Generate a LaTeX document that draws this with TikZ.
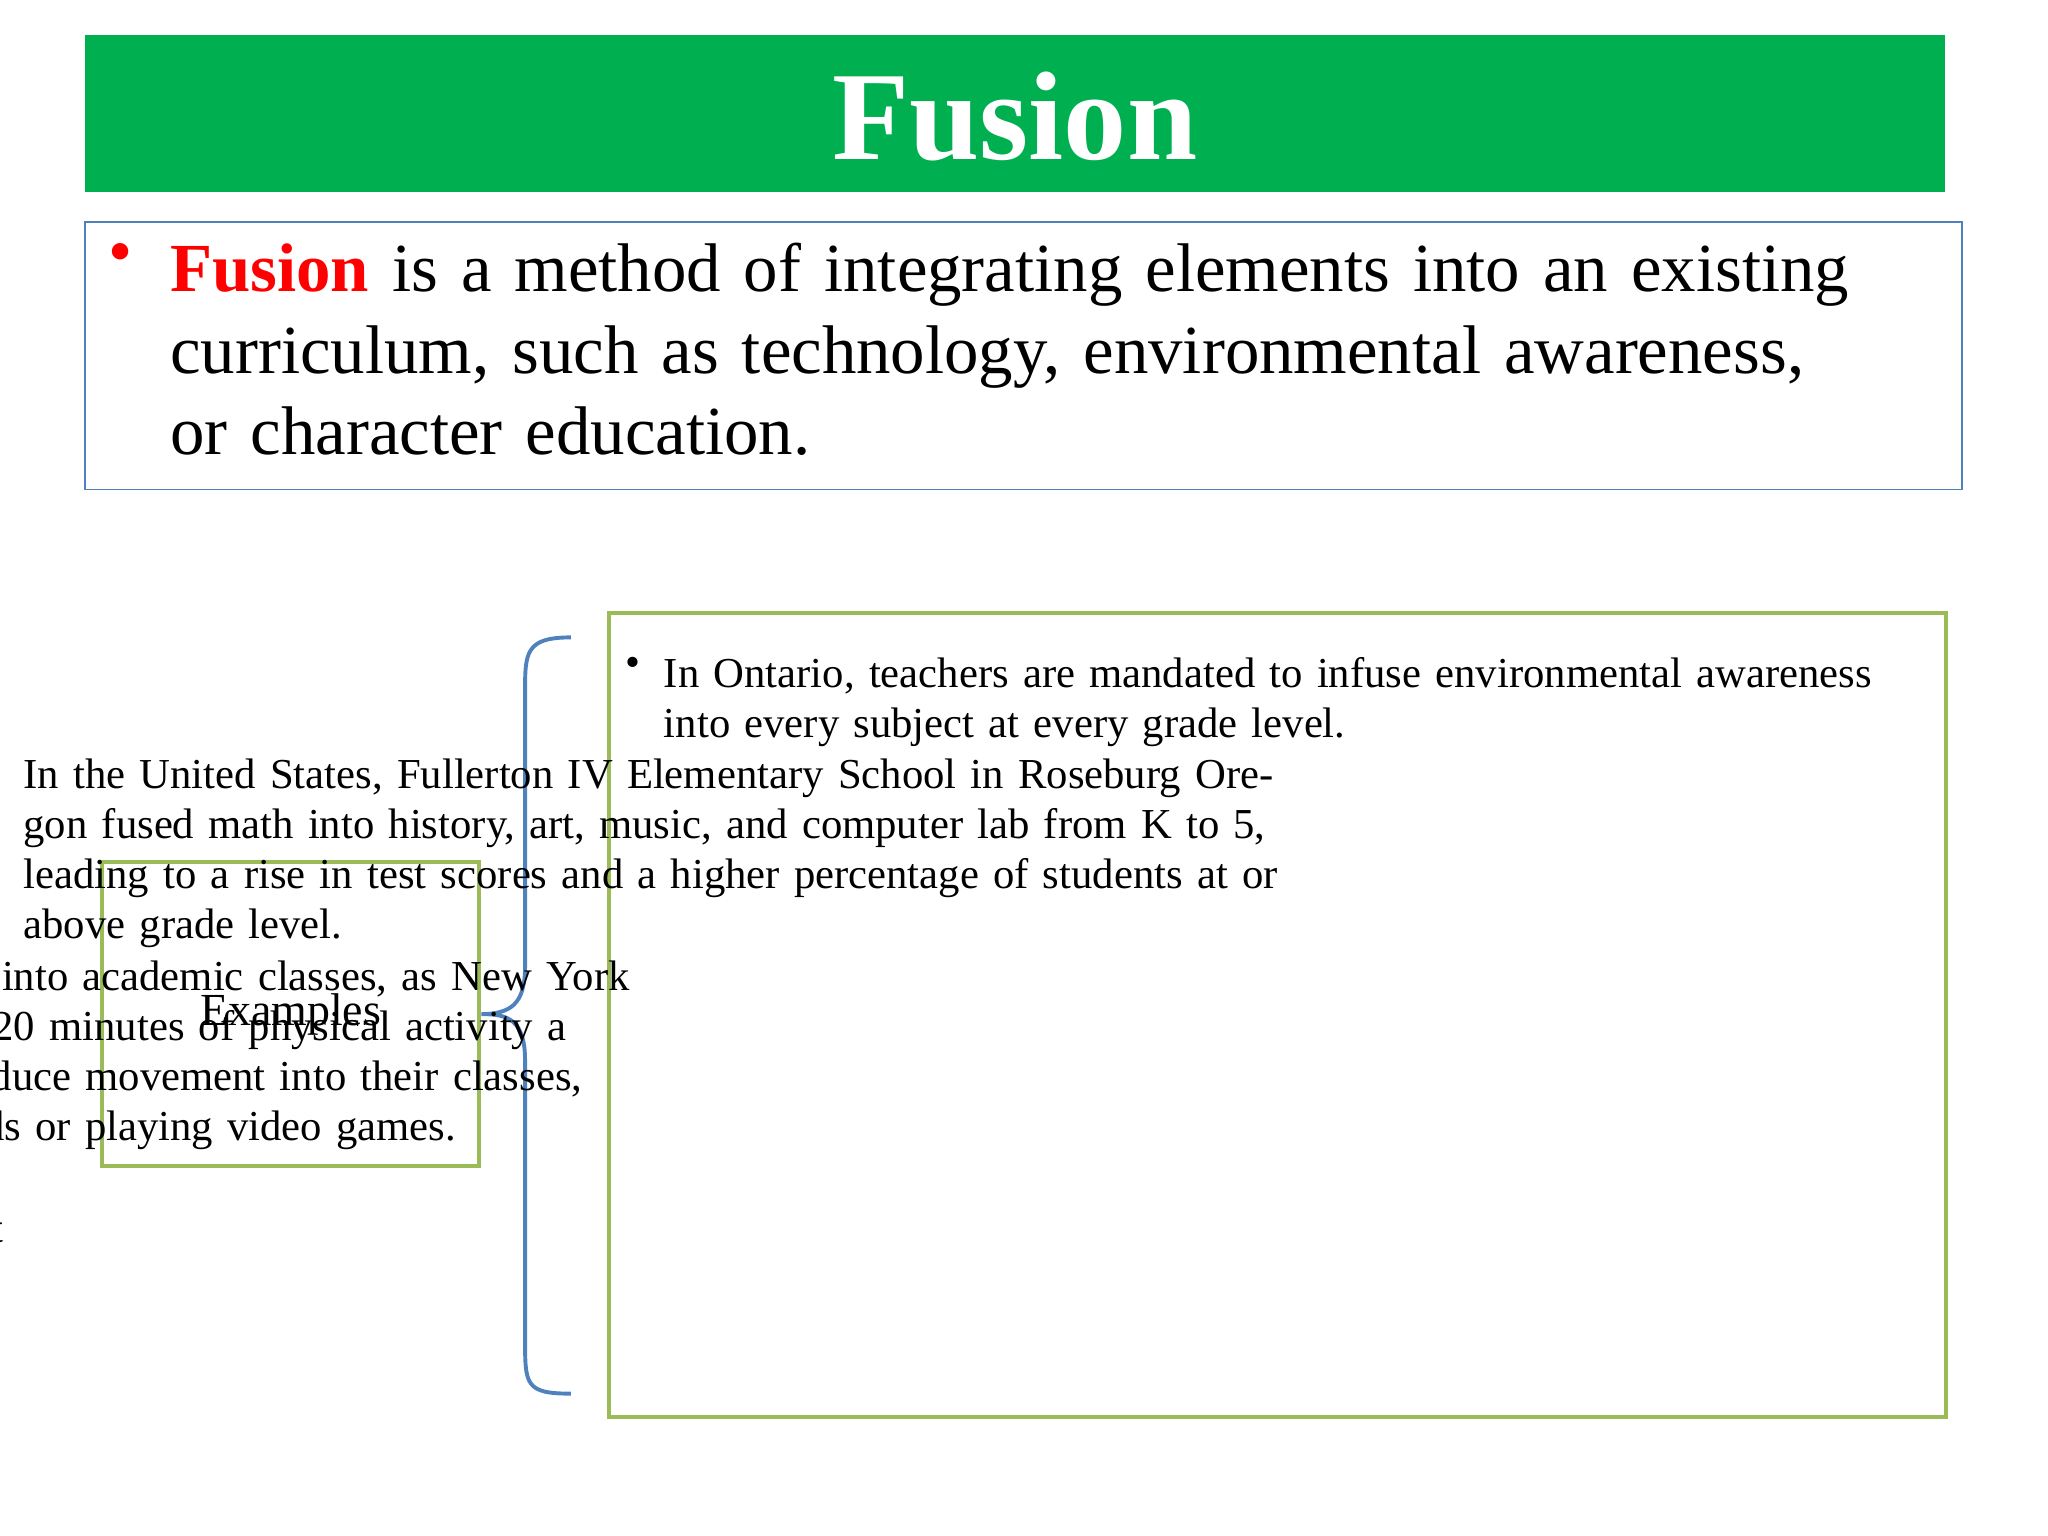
\documentclass[tikz,border=0pt]{standalone}
\usepackage{fontspec}
\setmainfont{Liberation Serif}
\usetikzlibrary{positioning,calc}
\definecolor{titlegreen}{RGB}{0,176,80}
\definecolor{boxgreen}{RGB}{155,187,89}
\definecolor{boxblue}{RGB}{79,129,189}

\begin{document}
\begin{tikzpicture}[
    x=0.02cm, y=-0.02cm,
    item/.style={anchor=north west, inner sep=0pt, text width=19.6cm, align=left,
      font=\fontsize{18.6pt}{21.8pt}\selectfont},
    bul/.style={anchor=north east, inner sep=0pt, font=\fontsize{18.6pt}{21.8pt}\selectfont},
    frame/.style={draw=boxgreen, line width=1.8pt}
]
\useasboundingbox (0,0) rectangle (1568,1176);

% ========== TITLE ==========
\fill[titlegreen] (65,27) rectangle (1489,147);
\node[text=white, font=\fontsize{55pt}{60pt}\selectfont\bfseries] (title) at (777,89) {Fusion};

% ========== DEFINITION ==========
\draw[boxblue, line width=0.6pt] (65,170) rectangle (1502,375);
\node[anchor=north west, inner sep=0pt, text width=26cm, align=left,
  font=\fontsize{30pt}{35.4pt}\selectfont] (def) at (130,186)
  {\textcolor{red}{\textbf{Fusion}} is a method of integrating elements into an existing curriculum, such as technology, environmental awareness, or character education.};
\node[anchor=north east, inner sep=0pt, text=red, font=\fontsize{30pt}{35.4pt}\selectfont] (defbul) at ($(def.north west)+(-28,0)$) {•};

% ========== EXAMPLES ==========
\node[frame, minimum width=5.78cm, minimum height=4.66cm,
  font=\fontsize{20pt}{24pt}\selectfont] (ex) at (222.5,776.5) {Examples};
\draw[frame] (466,469) rectangle (1490,1085);

% Brace
\coordinate (bt) at (437,488);
\coordinate (bb) at (437,1067);
\draw[boxblue, line width=1.7pt]
  (bt) .. controls (402,488) and (402,500) .. (402,530) -- (402,740)
  .. controls (402,770) and (390,776) .. (ex.east)
  .. controls (390,776) and (402,782) .. (402,812) -- (402,1025)
  .. controls (402,1060) and (402,1067) .. (bb);

% Items
\node[item] (i1) at (508,503) {In Ontario, teachers are mandated to infuse environmental awareness into every subject at every grade level.};
\node[item, below=5pt of i1.south west] (i2) {In the United States, Fullerton IV Elementary School in Roseburg Oregon fused math into history, art, music, and computer lab from K to 5, leading to a rise in test scores and a higher percentage of students at or above grade level.};
\node[item, below=5pt of i2.south west] (i3) {Physical activity can also be fused into academic classes, as New York state law requires students to get 120 minutes of physical activity a week.\ \ Teachers find ways to introduce movement into their classes, such as acting out vocabulary words or playing video games.};
\node[item, below=5pt of i3.south west] (i4) {Infusing history into reading programs and instruction is a case for addressing the marginalization of history in the No Child Left Behind Act and the Common Core State Standards.};
\foreach \i in {1,...,4}
  \node[bul] (b\i) at ($(i\i.north west)+(-17,0)$) {•};

\end{tikzpicture}
\end{document}
